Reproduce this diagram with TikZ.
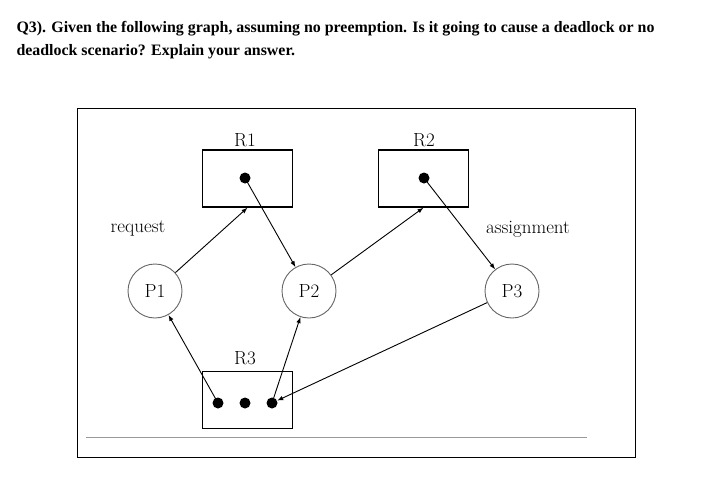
\documentclass[tikz,border=0pt]{standalone}
\usetikzlibrary{arrows.meta}
\usepackage{fontspec}
\newfontfamily\timesf{Liberation Serif}
\begin{document}
\begin{tikzpicture}[x=1pt,y=-1pt,
  proc/.style={draw=black!60,line width=0.9pt,circle,minimum size=54pt,inner sep=0pt,font=\fontsize{19}{22}\selectfont},
  res/.style={draw,line width=1.3pt,minimum width=90pt,minimum height=57pt,inner sep=0pt},
  tok/.style={fill,circle,minimum size=11pt,inner sep=0pt},
  lab/.style={font=\fontsize{19}{22}\selectfont},
  edge/.style={-{Latex[length=6pt,width=4.5pt]},line width=0.9pt}]
\useasboundingbox (0,0) rectangle (713,477);
\node[anchor=base west,font=\timesf\bfseries\fontsize{15.9}{18}\selectfont] (t1) at (13,32) {Q3). Given the following graph, assuming no preemption. Is it going to cause a deadlock or no};
\node[anchor=base west,font=\timesf\bfseries\fontsize{15.9}{18}\selectfont] (t2) at (13,55) {deadlock scenario? Explain your answer.};
\node[draw,line width=0.9pt,minimum width=558pt,minimum height=349pt,inner sep=0pt] (frame) at (356,282.5) {};
\coordinate (gl) at (86,437); \coordinate (gr) at (587,437);
\draw[black!40,line width=0.6pt] (gl) -- (gr);
\node[res] (R1) at (247.5,178.5) {};
\node[res] (R2) at (423.5,178.5) {};
\node[res] (R3) at (247.5,400) {};
\node[tok] (d1) at (245,178) {};
\node[tok] (d2) at (424,178) {};
\node[tok] (e1) at (218,403) {};
\node[tok] (e2) at (245,403) {};
\node[tok] (e3) at (272,403) {};
\node[lab] (lR1) at (245,140) {R1};
\node[lab] (lR2) at (424,140) {R2};
\node[lab] (lR3) at (245,358) {R3};
\node[proc] (P1) at (155,291) {P1};
\node[proc] (P2) at (309,291) {P2};
\node[proc] (P3) at (512,291) {P3};
\node[lab] (req) at (138,229) {request};
\node[lab] (asg) at (528,229) {assignment};
\draw[edge] (P1) -- (R1.south);
\draw[edge] (d1.center) -- (P2);
\draw[edge] (P2) -- (R2.south);
\draw[edge] (d2.center) -- (P3);
\draw[edge] (e1.center) -- (P1);
\draw[edge] (e3.center) -- (P2);
\draw[edge] (P3) -- (e3);
\end{tikzpicture}
\end{document}
